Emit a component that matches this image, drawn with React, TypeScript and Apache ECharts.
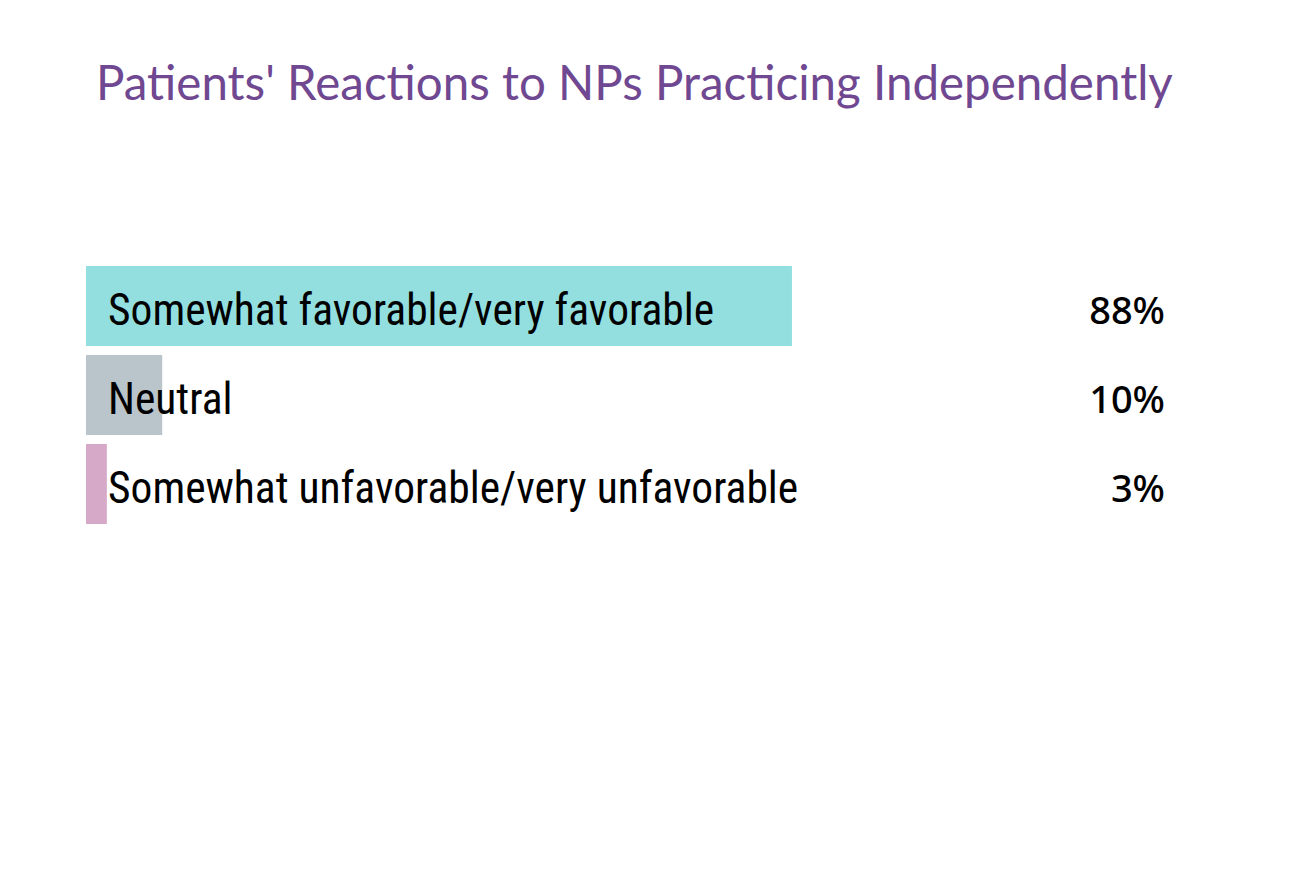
import React, { useEffect, useRef } from 'react';
import * as echarts from 'echarts';

// 数据（条形长度按图中读取，标签为图中所印的整数百分比）
const categories = [
  'Somewhat favorable/very favorable',
  'Neutral',
  'Somewhat unfavorable/very unfavorable',
];
const values = [88, 9.5, 2.6];
const valueLabels = ['88%', '10%', '3%'];
const barColors = ['#93dfe0', '#bac5cb', '#d7a9c8'];

const TITLE = "Patients' Reactions to NPs Practicing Independently";

const App: React.FC = () => {
  const chartRef = useRef<HTMLDivElement>(null);

  useEffect(() => {
    document.body.style.margin = '0';
    if (!chartRef.current) return;
    const chart = echarts.init(chartRef.current, undefined, { renderer: 'svg' });

    const option: echarts.EChartsOption = {
      animation: false,
      backgroundColor: '#ffffff',
      title: {
        text: TITLE,
        left: 91,
        top: 52,
        textStyle: {
          color: '#6f4891',
          fontFamily: 'Lato',
          fontWeight: 'normal',
          fontSize: 47.5,
        },
      },
      grid: {
        left: 86,
        right: 125,
        top: 261.5,
        height: 267,
        containLabel: false,
      },
      xAxis: {
        type: 'value',
        min: 0,
        max: 134.5,
        show: false,
      },
      yAxis: [
        {
          type: 'category',
          data: categories,
          inverse: true,
          axisLine: { show: false },
          axisTick: { show: false },
          splitLine: { show: false },
          axisLabel: {
            inside: true,
            margin: 22,
            color: '#000',
            fontSize: 43.5,
            verticalAlign: 'top',
            lineHeight: 8,
            fontFamily: '"Roboto Condensed", "Liberation Sans Narrow", "DejaVu Sans Condensed", Roboto',
          },
          z: 10,
        },
        {
          type: 'category',
          data: valueLabels,
          inverse: true,
          position: 'right',
          axisLine: { show: false },
          axisTick: { show: false },
          splitLine: { show: false },
          axisLabel: {
            inside: true,
            margin: 0,
            color: '#000',
            fontSize: 38,
            fontWeight: 500,
            verticalAlign: 'top',
            lineHeight: 6,
            fontFamily: '"Noto Sans"',
          },
        },
      ],
      series: [
        {
          type: 'bar',
          yAxisIndex: 0,
          barWidth: 80,
          data: values.map((v, i) => ({ value: v, itemStyle: { color: barColors[i] } })),
          z: 1,
        },
      ],
    };

    chart.setOption(option);

    return () => {
      chart.dispose();
    };
  }, []);

  return <div ref={chartRef} style={{ width: '1290px', height: '878px' }} />;
};

export default App;
